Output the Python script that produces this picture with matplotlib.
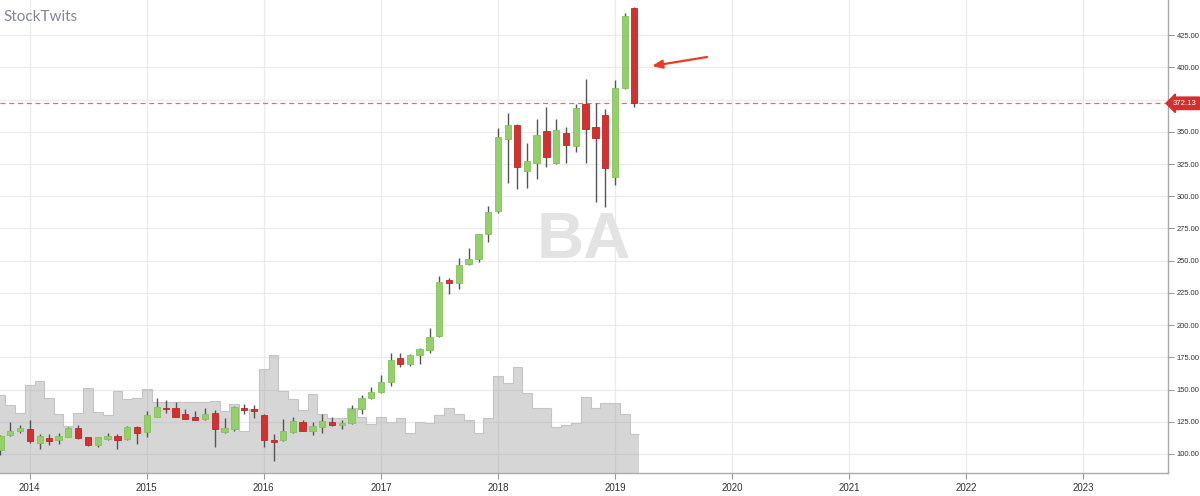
import numpy as np
import pandas as pd
import matplotlib
matplotlib.use("Agg")
import matplotlib.pyplot as plt
import matplotlib.dates as mdates
from matplotlib.transforms import blended_transform_factory

# monthly candles, Oct 2013 .. Mar 2019
months = pd.date_range("2013-10-01", periods=66, freq="MS")

opens = [103.1, 114.7, 118.1,
         119.2, 108.8, 112.4, 110.9, 113.4, 120.4, 113.0, 107.2, 111.9, 114.0, 111.6, 120.7,
         117.3, 128.9, 135.9, 135.5, 131.0, 128.5, 126.9, 131.6, 117.3, 119.4, 135.9, 134.7,
         130.3, 110.6, 110.9, 117.3, 125.1, 118.1, 121.2, 125.1, 122.5, 124.3, 134.9, 143.2,
         148.4, 156.1, 174.3, 169.8, 176.8, 180.7, 191.6, 235.0, 232.9, 247.5, 251.1, 270.7,
         288.9, 344.7, 355.3, 319.5, 326.1, 350.7, 326.1, 348.9, 339.1, 371.6, 354.0, 362.8,
         315.2, 384.3, 445.9]
highs = [115.0, 124.6, 122.3,
         126.4, 115.5, 115.3, 116.5, 121.0, 122.5, 113.5, 113.4, 116.0, 115.3, 122.0, 121.7,
         133.4, 143.2, 141.9, 140.6, 134.7, 133.4, 135.5, 134.1, 127.7, 137.5, 138.8, 137.8,
         131.0, 115.3, 127.2, 128.5, 126.4, 125.1, 131.0, 128.9, 126.4, 138.0, 145.8, 152.2,
         161.3, 178.1, 178.1, 177.5, 182.5, 197.6, 238.1, 236.5, 251.9, 259.6, 271.0, 292.1,
         352.8, 364.9, 356.1, 341.6, 360.0, 369.6, 359.8, 353.8, 371.6, 390.7, 372.2, 367.5,
         390.3, 442.0, 446.5]
lows = [99.2, 114.2, 116.5,
        108.3, 104.1, 107.0, 107.8, 113.0, 111.6, 106.5, 105.2, 110.9, 103.9, 111.0, 107.8,
        113.4, 128.5, 132.1, 128.5, 127.0, 126.0, 126.5, 105.2, 116.5, 118.1, 131.0, 127.7,
        105.7, 94.8, 110.0, 116.5, 117.5, 114.7, 116.5, 122.0, 119.2, 123.0, 131.0, 142.5,
        147.5, 153.0, 167.3, 168.5, 169.8, 178.6, 191.0, 224.2, 227.8, 246.5, 249.3, 264.3,
        287.0, 310.1, 305.7, 306.2, 313.4, 323.0, 325.0, 325.6, 334.6, 326.1, 295.8, 292.0,
        308.8, 383.0, 369.6]
closes = [114.0, 118.1, 119.9,
          110.1, 114.0, 110.3, 114.0, 120.4, 112.7, 107.2, 113.0, 113.7, 110.9, 120.7, 116.5,
          130.3, 136.7, 134.7, 128.9, 127.2, 126.4, 131.0, 119.2, 119.9, 136.7, 134.1, 133.4,
          110.9, 109.1, 118.1, 125.6, 118.1, 121.7, 125.6, 122.5, 124.3, 134.7, 143.2, 147.9,
          155.6, 172.9, 169.8, 176.8, 181.3, 191.0, 233.7, 232.9, 246.7, 251.1, 270.5, 287.8,
          346.3, 355.3, 322.6, 327.4, 347.3, 330.7, 351.5, 339.8, 368.8, 351.9, 345.5, 321.7,
          383.8, 440.2, 372.13]
# volume, millions of shares
volumes = [78, 68, 60,
           88, 92, 75, 59, 47, 60, 85, 61, 58, 82, 74, 75,
           84, 71, 71, 71, 71, 71, 71, 72, 62, 69, 42, 64,
           104, 118, 82, 74, 63, 79, 59, 55, 55, 65, 56, 49,
           56, 51, 55, 40, 51, 50, 58, 65, 59, 53, 40, 55,
           97, 90, 106, 80, 65, 65, 46, 48, 50, 76, 65, 70,
           70, 59, 39]

last_price = 372.13
ticker = "BA"
year_ticks = [str(y) for y in range(2014, 2024)]

GREEN = "#93d06a"
GREEN_EDGE = "#84c25b"
RED = "#d43030"
RED_EDGE = "#c02626"
WICK = "#555555"

fig = plt.figure(figsize=(12, 4.96), dpi=100)
ax = fig.add_axes([0, 23 / 496, 1168 / 1200, 473 / 496])

x = mdates.date2num(months)
o = np.array(opens)
h = np.array(highs)
l = np.array(lows)
c = np.array(closes)
up = c >= o

# volume as steps along the bottom (y in axes fraction)
step = np.diff(x).mean()
edges = np.concatenate([[x[0] - step / 2], (x[:-1] + x[1:]) / 2, [x[-1] + step / 2]])
vol_top = 473.0
trans = ax.get_xaxis_transform()
ax.stairs(np.array(volumes) / vol_top, edges, baseline=0, fill=True,
          color="#999999", alpha=0.4, lw=0, transform=trans, zorder=1)
ax.stairs(np.array(volumes) / vol_top, edges, baseline=None, fill=False,
          color="#c4c4c4", lw=0.8, transform=trans, zorder=1.1)

# watermark
ax.text(0.5, 0.49, ticker, transform=ax.transAxes, fontsize=47, fontweight="bold",
        color="#e3e3e3", ha="center", va="center", family="Liberation Sans", zorder=0.8)

# candles
ax.vlines(x, l, h, color=WICK, lw=1.0, zorder=2)
ax.bar(x, c - o, bottom=o, width=20, color=np.where(up, GREEN, RED),
       edgecolor=np.where(up, GREEN_EDGE, RED_EDGE), lw=0.6, zorder=3)

# last price line + tag
ax.axhline(last_price, color="#e07070", lw=0.9, ls=(0, (4, 3)), zorder=1.5)
tag_tr = blended_transform_factory(ax.transAxes, ax.transData)
ax.text(1.0 + 5 / 1168, last_price, f"{last_price:.2f}", transform=tag_tr,
        ha="left", va="center", color="white", fontsize=5.6, family="Liberation Sans",
        bbox=dict(boxstyle="larrow,pad=0.35", fc="#d32f2f", ec="#d32f2f"),
        clip_on=False, zorder=5)

# arrow
ax.annotate("", xy=(652 / 1168, 1 - 66 / 473), xytext=(707 / 1168, 1 - 57 / 473),
            xycoords="axes fraction", textcoords="axes fraction",
            arrowprops=dict(arrowstyle="-|>,head_length=0.6,head_width=0.25",
                            color="#ee3b24", lw=1.6, shrinkA=0, shrinkB=0), zorder=6)

# axes styling
ax.set_xlim(mdates.datestr2num("2013-09-30"), mdates.datestr2num("2023-09-22"))
ax.set_ylim(85.25, 452.3)
ax.set_yticks(np.arange(100, 426, 25))
ax.yaxis.set_major_formatter(plt.FuncFormatter(lambda v, p: f"{v:.2f}"))
ax.yaxis.tick_right()
ax.set_xticks(mdates.datestr2num([f"{y}-01-01" for y in year_ticks]))
ax.set_xticklabels(year_ticks)
ax.tick_params(axis="both", colors="#999999", labelcolor="#333333", length=4, width=0.8)
ax.tick_params(axis="y", labelsize=5.4, pad=2)
ax.tick_params(axis="x", labelsize=7, pad=3)
for lab in ax.get_xticklabels() + ax.get_yticklabels():
    lab.set_family("Liberation Sans")
ax.grid(True, color="#ebebeb", lw=0.9)
ax.set_axisbelow(True)
for side in ["top", "left"]:
    ax.spines[side].set_visible(False)
for side in ["right", "bottom"]:
    ax.spines[side].set_color("#aaaaaa")
    ax.spines[side].set_linewidth(1.0)

# logo
fig.text(3 / 1200, 1 - 17 / 496, "StockTwits", fontsize=11, color="#85859a",
         family="Lato", va="center", ha="left")

fig.savefig("out.png", dpi=100)
